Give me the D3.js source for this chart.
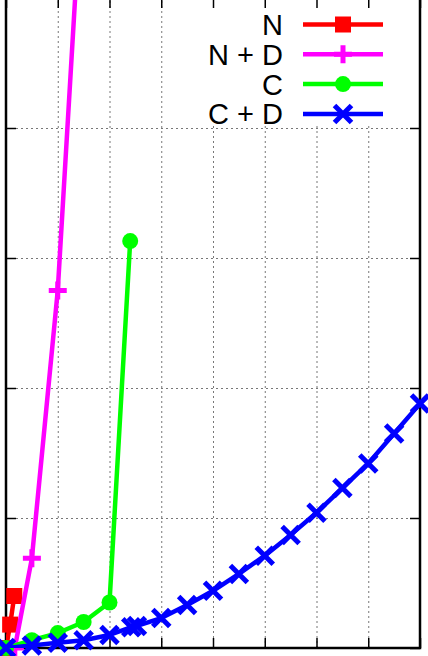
<!DOCTYPE html>
<html>
<head>
<meta charset="utf-8">
<script src="https://cdn.jsdelivr.net/npm/d3@7"></script>
<style>
  body { margin: 0; background: #fff; }
  svg { display: block; }
</style>
</head>
<body>
<div id="chart"></div>
<script>
// data
const xN  = [0, 0.08, 0.16];
const yN  = [0, 0.18, 0.40];

const xND = [0.17, 0.5, 1.0, 1.5];
const yND = [0, 0.69, 2.75, 6.1];

const xC  = [0, 0.5, 1.0, 1.5, 2.0, 2.4];
const yC  = [0, 0.06, 0.115, 0.2, 0.35, 3.13];

const xCD = [0, 0.5, 1.0, 1.5, 2.0, 2.42, 2.53, 3.0, 3.5, 4.0, 4.5, 5.0, 5.5, 6.0, 6.5, 7.0, 7.5, 8.0];
const yCD = [0, 0.02, 0.04, 0.06, 0.1, 0.16, 0.17, 0.23, 0.33, 0.44, 0.57, 0.71, 0.87, 1.04, 1.23, 1.42, 1.65, 1.88];

const labels = ["N", "N + D", "C", "C + D"];
const colors = ["#ff0000", "#ff00ff", "#00ff00", "#0000ff"];
const shapes = ["square", "plus", "circle", "cross"];

const xTicks = [0, 1, 2, 3, 4, 5, 6, 7, 8];
const yTicks = [0, 1, 2, 3, 4, 5];

const W = 428, H = 656;
// plot box edges (top sits just above the visible area)
const box = {left: 6, right: 420, top: -2, bottom: 648};

const svg = d3.select("#chart").append("svg")
    .attr("width", W)
    .attr("height", H);

const x = d3.scaleLinear().domain([0, 8]).range([box.left, box.right]);
const y = d3.scaleLinear().domain([0, 5]).range([box.bottom, box.top]);

// dotted grid
svg.append("g")
    .attr("transform", "translate(0," + box.bottom + ")")
    .call(d3.axisBottom(x).tickValues(xTicks.slice(1, -1)).tickSize(-(box.bottom - box.top)).tickFormat(""))
    .call(g => g.select(".domain").remove())
    .selectAll("line")
    .attr("stroke", "#777")
    .attr("stroke-width", 1)
    .attr("stroke-dasharray", "2,3");

svg.append("g")
    .attr("transform", "translate(" + box.left + ",0)")
    .call(d3.axisLeft(y).tickValues(yTicks.slice(1, -1)).tickSize(-(box.right - box.left)).tickFormat(""))
    .call(g => g.select(".domain").remove())
    .selectAll("line")
    .attr("stroke", "#777")
    .attr("stroke-width", 1)
    .attr("stroke-dasharray", "2,3");

// key background hides the grid behind it
svg.append("rect")
    .attr("x", 185).attr("y", 0)
    .attr("width", box.right - 186).attr("height", 126)
    .attr("fill", "#fff");

// ticks on all four sides, pointing inward
const tickLen = 10;
function ticks(axis, tr) {
  svg.append("g")
      .attr("transform", tr)
      .call(axis.tickSizeInner(-tickLen).tickSizeOuter(0).tickFormat(""))
      .call(g => g.select(".domain").remove())
      .selectAll("line")
      .attr("stroke", "#000")
      .attr("stroke-width", 1.5);
}
ticks(d3.axisBottom(x).tickValues(xTicks), "translate(0," + box.bottom + ")");
ticks(d3.axisTop(x).tickValues(xTicks), "translate(0," + box.top + ")");
ticks(d3.axisLeft(y).tickValues(yTicks), "translate(" + box.left + ",0)");
ticks(d3.axisRight(y).tickValues(yTicks), "translate(" + box.right + ",0)");

// border
svg.append("rect")
    .attr("x", box.left).attr("y", box.top)
    .attr("width", box.right - box.left).attr("height", box.bottom - box.top)
    .attr("fill", "none")
    .attr("stroke", "#000")
    .attr("stroke-width", 2.5);

// clip for the lines
svg.append("clipPath").attr("id", "plot")
  .append("rect")
    .attr("x", box.left).attr("y", box.top)
    .attr("width", box.right - box.left).attr("height", box.bottom - box.top);

function marker(g, shape, color, cx, cy) {
  if (shape === "square") {
    g.append("rect")
        .attr("x", cx - 8).attr("y", cy - 8)
        .attr("width", 16).attr("height", 16)
        .attr("fill", color);
  } else if (shape === "circle") {
    g.append("circle")
        .attr("cx", cx).attr("cy", cy).attr("r", 8)
        .attr("fill", color);
  } else if (shape === "plus") {
    g.append("path")
        .attr("d", "M" + (cx - 9) + "," + cy + "H" + (cx + 9) + "M" + cx + "," + (cy - 9) + "V" + (cy + 9))
        .attr("stroke", color).attr("stroke-width", 5);
  } else {
    g.append("path")
        .attr("d", "M" + (cx - 8.5) + "," + (cy - 8.5) + "L" + (cx + 8.5) + "," + (cy + 8.5) +
                   "M" + (cx - 8.5) + "," + (cy + 8.5) + "L" + (cx + 8.5) + "," + (cy - 8.5))
        .attr("stroke", color).attr("stroke-width", 5);
  }
}

const series = [
  d3.zip(xN, yN),
  d3.zip(xND, yND),
  d3.zip(xC, yC),
  d3.zip(xCD, yCD)
];

const line = d3.line().x(d => x(d[0])).y(d => y(d[1]));

// lines are clipped to the box, points on the border are drawn whole
series.forEach((pts, i) => {
  const g = svg.append("g");
  g.append("path")
      .datum(pts)
      .attr("clip-path", "url(#plot)")
      .attr("d", line)
      .attr("fill", "none")
      .attr("stroke", colors[i])
      .attr("stroke-width", 4.5)
      .attr("stroke-linejoin", "round");
  pts.filter(d => d[1] <= 5).forEach(d => marker(g, shapes[i], colors[i], x(d[0]), y(d[1])));
});

// key
const key = svg.append("g");
labels.forEach((name, i) => {
  const cy = 24.5 + i * 29.8;
  key.append("text")
      .attr("x", 283)
      .attr("y", cy + 10.5)
      .attr("text-anchor", "end")
      .attr("font-family", "'Liberation Sans', Arial, sans-serif")
      .attr("font-size", 29)
      .attr("fill", "#000")
      .text(name);
  key.append("line")
      .attr("x1", 303).attr("x2", 383)
      .attr("y1", cy).attr("y2", cy)
      .attr("stroke", colors[i])
      .attr("stroke-width", 4.5);
  marker(key, shapes[i], colors[i], 343, cy);
});
</script>
</body>
</html>
